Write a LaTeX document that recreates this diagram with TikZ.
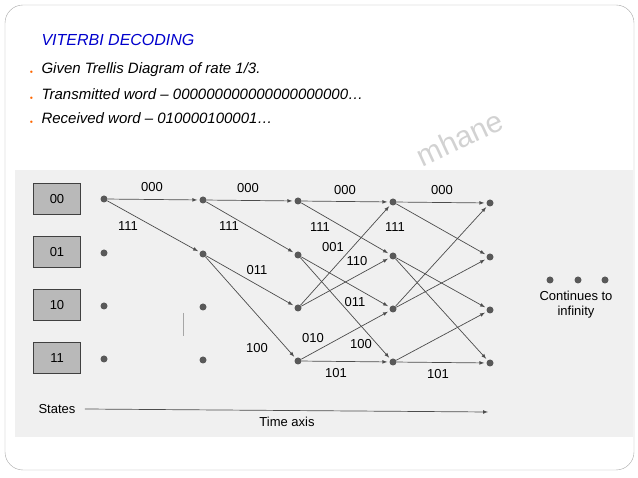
\documentclass[tikz,border=0pt]{standalone}
\usepackage{fontspec}
\setmainfont{Liberation Sans}
\begin{document}
\begin{tikzpicture}[x=1pt,y=-1pt,font=\fontsize{13}{15}\selectfont]
\tikzstyle{dot}=[circle,fill=gray!70!black,inner sep=0pt,minimum size=7pt]
\tikzstyle{edge}=[->,>=latex,gray!60!black,line width=0.7pt,shorten >=2pt]
\tikzstyle{statebox}=[draw=gray!50!black,fill=gray!55,minimum width=47pt,minimum height=31pt]
\tikzstyle{bullet}=[anchor=west,font=\itshape\fontsize{15}{17}\selectfont]
\useasboundingbox (0,0) rectangle (638,478);
% slide frame and text
\draw[gray!70,rounded corners=18pt] (5,5) rectangle (634,470);
\node[anchor=west,text=blue!80!black,font=\itshape\fontsize{16}{18}\selectfont] (title) at (38,40) {VITERBI DECODING};
\node[bullet] (b1) at (26,70) {\textcolor{orange!80!red}{\tiny$\bullet$}\ \ Given Trellis Diagram of rate 1/3.};
\node[bullet] (b2) at (26,94) {\textcolor{orange!80!red}{\tiny$\bullet$}\ \ Transmitted word -- 000000000000000000000\dots};
\node[bullet] (b3) at (26,118) {\textcolor{orange!80!red}{\tiny$\bullet$}\ \ Received word -- 010000100001\dots};
\node[gray!35,rotate=25,font=\fontsize{30}{32}\selectfont] (wm) at (460,138) {mhane};
% picture panel
\fill[gray!12] (15,170) rectangle (633,437);
\node[statebox] (s0) at (57,199) {00};
\node[statebox] (s1) at (57,252) {01};
\node[statebox] (s2) at (57,305) {10};
\node[statebox] (s3) at (57,358) {11};
% trellis dots
\foreach \c/\x in {1/104,2/203,3/298,4/393,5/490}
  \foreach \r/\y in {0/198,1/252,2/305,3/358}
    \node[dot] (n\c\r) at (\x,\y+\c) {};
% t1
\draw[edge] (n10) -- (n20);
\draw[edge] (n10) -- (n21);
% t2
\draw[edge] (n20) -- (n30);
\draw[edge] (n20) -- (n31);
\draw[edge] (n21) -- (n32);
\draw[edge] (n21) -- (n33);
% t3 and t4
\foreach \a/\b in {3/4,4/5}{
  \draw[edge] (n\a0) -- (n\b0);
  \draw[edge] (n\a0) -- (n\b1);
  \draw[edge] (n\a1) -- (n\b2);
  \draw[edge] (n\a1) -- (n\b3);
  \draw[edge] (n\a2) -- (n\b0);
  \draw[edge] (n\a2) -- (n\b1);
  \draw[edge] (n\a3) -- (n\b2);
  \draw[edge] (n\a3) -- (n\b3);
}
% labels
\node (l1) at (152,187) {000};
\node (l2) at (128,226) {111};
\node (l3) at (248,188) {000};
\node (l4) at (229,226) {111};
\node (l5) at (257,270) {011};
\node (l6) at (257,348) {100};
\node (l7) at (345,190) {000};
\node (l8) at (320,227) {111};
\node (l9) at (333,247) {001};
\node (l10) at (357,261) {110};
\node (l11) at (355,302) {011};
\node (l12) at (313,338) {010};
\node (l13) at (361,344) {100};
\node (l14) at (336,373) {101};
\node (l15) at (442,190) {000};
\node (l16) at (395,227) {111};
\node (l17) at (438,374) {101};
% continues
\foreach \i/\x in {1/550,2/578,3/605}
  \node[dot] (c\i) at (\x,280) {};
\node[align=center,inner sep=0pt] (cont) at (576,305) {Continues to\\infinity};
\draw[gray!70] (183,313) -- (183,336);
% axis
\node (states) at (57,409) {States};
\coordinate (ta) at (488,412);
\draw[edge,shorten >=0pt] (states.east) ++(6,0) coordinate (t0) -- (ta);
\node (time) at (287,422) {Time axis};
\end{tikzpicture}
\end{document}
